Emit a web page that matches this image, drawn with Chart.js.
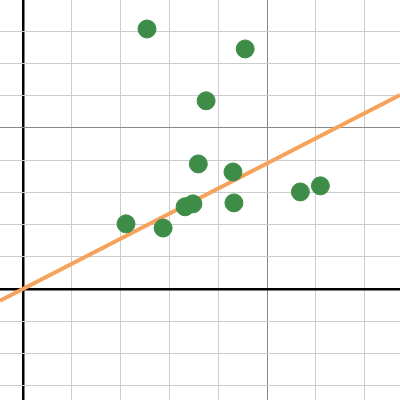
<!DOCTYPE html>
<html><head><meta charset="utf-8">
<script src="https://cdn.jsdelivr.net/npm/chart.js@4"></script>
<style>html,body{margin:0;padding:0;background:#fff}#w{width:400px;height:400px}</style>
</head><body><div id="w"><canvas id="c"></canvas></div>
<script>
const xs=[2.54,4.55,3.75,3.59,4.30,3.32,3.48,4.32,2.11,2.87,5.68,6.09];
const ys=[8.07,7.45,5.84,3.88,3.63,2.55,2.64,2.67,2.02,1.89,3.01,3.20];
const lineX=[-0.47,7.72];
const lineY=[-0.37,6.02];
const xRange=[-0.47,7.72], yRange=[-3.45,8.97];
const xTicks=[0,1,2,3,4,5,6,7], yTicks=[-3,-2,-1,0,1,2,3,4,5,6,7,8];
function gridColor(ctx){const v=Math.round(ctx.tick.value);if(v===0)return '#000';if(v%5===0)return '#888';return '#ccc';}
function gridWidth(ctx){return Math.round(ctx.tick.value)===0?2.5:1;}
function axis(r,t){return {type:'linear',min:r[0],max:r[1],
 afterBuildTicks:s=>{s.ticks=t.map(v=>({value:v}));},
 afterFit:s=>{if(s.isHorizontal())s.height=0;else s.width=0;},
 ticks:{display:false,padding:0},border:{display:false},
 grid:{color:gridColor,lineWidth:gridWidth,drawTicks:false,tickLength:0}};}
new Chart(document.getElementById('c'),{type:'scatter',
data:{datasets:[
{type:'line',data:lineX.map((x,i)=>({x,y:lineY[i]})),borderColor:'#f7a25a',borderWidth:4,pointRadius:0,order:2},
{data:xs.map((x,i)=>({x,y:ys[i]})),backgroundColor:'#3d8c47',borderColor:'#3d8c47',pointRadius:9,pointHoverRadius:9,order:1}
]},
options:{responsive:true,maintainAspectRatio:false,animation:false,layout:{padding:0,autoPadding:false},
plugins:{legend:{display:false},tooltip:{enabled:false}},
scales:{x:axis(xRange,xTicks),y:axis(yRange,yTicks)}}});
</script></body></html>
